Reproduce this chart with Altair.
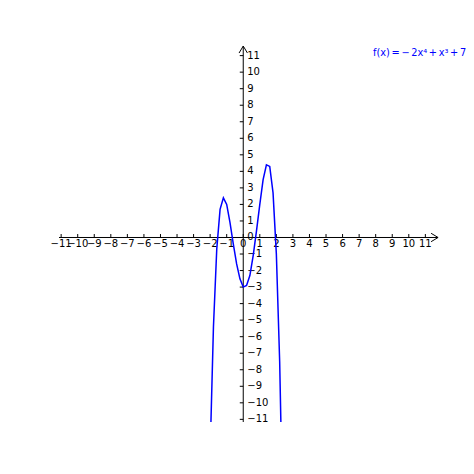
import altair as alt
import pandas as pd

# ---- data ----
curve_x = [-2.0, -1.8, -1.6, -1.4, -1.2, -1.0, -0.8, -0.6, -0.4, -0.2, 0.0,
           0.2, 0.4, 0.6, 0.8, 1.0, 1.2, 1.4, 1.6, 1.8, 2.0, 2.2, 2.4]
curve_y = [-13.0, -5.4, -0.7, 1.7, 2.4, 2.0, 0.9, -0.4, -1.6, -2.5, -3.0,
           -2.9, -2.3, -1.1, 0.4, 2.0, 3.5, 4.4, 4.3, 2.7, -1.0, -7.5, -17.6]
tick_values = list(range(-11, 12))
tick_labels = [str(v).replace("-", "\u2212") for v in tick_values]
S = "\u2006"
formula = f"f(x){S}={S}\u2212{S}2x\u2074{S}+{S}x\u00b3{S}+{S}7x\u00b2{S}\u2212{S}x{S}\u2212{S}3"

# ---- layout constants ----
XD = [-11.13, 11.1]
YD = [-11.16, 11.34]
W, H = 368, 372
TICK = 0.21          # tick length in data units (~3.5px)
X_TIP, Y_TIP = 11.77, 11.58
FONT = "DejaVu Sans"

xs = alt.Scale(domain=XD, nice=False, zero=False)
ys = alt.Scale(domain=YD, nice=False, zero=False)

def X(f="x"):
    return alt.X(f"{f}:Q", scale=xs, axis=None)

def Y(f="y"):
    return alt.Y(f"{f}:Q", scale=ys, axis=None)

curve_df = pd.DataFrame({"x": curve_x, "y": curve_y})
ticks_df = pd.DataFrame({"v": tick_values, "label": tick_labels, "zero": 0.0,
                         "t": TICK, "nt": -TICK})

axes_df = pd.DataFrame({"x": [XD[0], 0.0], "x2": [X_TIP, 0.0],
                        "y": [0.0, YD[0]], "y2": [0.0, Y_TIP]})

x_axis = alt.Chart(axes_df.iloc[[0]]).mark_rule(color="black", strokeWidth=1, clip=False).encode(
    x=X(), x2="x2:Q", y=Y())
y_axis = alt.Chart(axes_df.iloc[[1]]).mark_rule(color="black", strokeWidth=1, clip=False).encode(
    x=X(), y=Y(), y2="y2:Q")

x_arrow = alt.Chart(pd.DataFrame({"x": [X_TIP], "y": [0.0]})).mark_point(
    shape="M -1 -0.6 L 0 0 L -1 0.6", size=196, filled=False, color="black",
    strokeWidth=1, opacity=1, clip=False).encode(x=X(), y=Y())
y_arrow = alt.Chart(pd.DataFrame({"x": [0.0], "y": [Y_TIP]})).mark_point(
    shape="M -0.6 1 L 0 0 L 0.6 1", size=196, filled=False, color="black",
    strokeWidth=1, opacity=1, clip=False).encode(x=X(), y=Y())

x_ticks = alt.Chart(ticks_df).mark_rule(color="black", strokeWidth=1).encode(
    x=X("v"), y=Y("zero"), y2="t:Q")
y_ticks = alt.Chart(ticks_df).mark_rule(color="black", strokeWidth=1).encode(
    x=X("nt"), x2="zero:Q", y=Y("v"))

x_labels = alt.Chart(ticks_df).mark_text(
    font=FONT, fontSize=10, color="black", align="center", baseline="top", dy=2).encode(
    x=X("v"), y=Y("zero"), text="label:N")
y_labels = alt.Chart(ticks_df).mark_text(
    font=FONT, fontSize=10, color="black", align="left", baseline="middle", dx=4).encode(
    x=X("zero"), y=Y("v"), text="label:N")

line = alt.Chart(curve_df).mark_line(color="#0000ff", strokeWidth=1.5, clip=True).encode(
    x=X(), y=Y(), order="x:Q")

title = alt.Chart(pd.DataFrame({"x": [7.84], "y": [11.16], "t": [formula]})).mark_text(
    font=FONT, fontSize=9.8, color="#0000ff", align="left", baseline="middle", clip=False).encode(
    x=X(), y=Y(), text="t:N")

chart = alt.layer(
    x_axis, y_axis, x_arrow, y_arrow, x_ticks, y_ticks, x_labels, y_labels, line, title
).properties(
    width=W, height=H,
    autosize=alt.AutoSizeParams(type="none"),
    padding={"left": 51, "top": 42, "right": 39, "bottom": 30},
    background="white",
).configure_view(stroke=None)

chart.save("out.html", embed_options={"renderer": "svg", "actions": False})
